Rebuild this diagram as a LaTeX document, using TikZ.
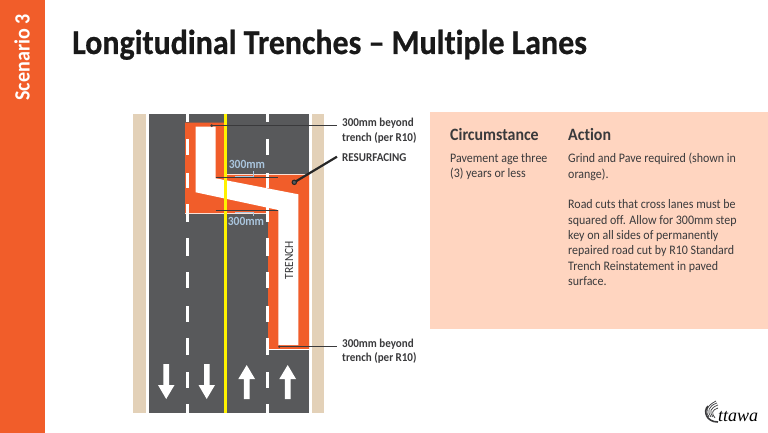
\documentclass[tikz,border=0pt]{standalone}
\usepackage{fontspec}
\setmainfont[Ligatures=NoCommon, FakeStretch=0.92, BoldFeatures={FakeBold=0.6}]{Carlito}
\newfontfamily\plainbold[Ligatures=NoCommon, FakeStretch=0.92]{Carlito Bold}
\newfontfamily\logofont{Liberation Serif}
\usetikzlibrary{positioning}
\definecolor{patch}{HTML}{F15D2A}
\definecolor{panel}{HTML}{FFD5C0}
\definecolor{road}{HTML}{58595B}
\definecolor{verge}{HTML}{E3D1B8}
\definecolor{dimblue}{HTML}{A9C4DC}
\definecolor{ink}{HTML}{3A3A3C}
\tikzset{
  lane/.style={line width=3, color=white},
  leader/.style={line width=0.8, color=ink},
  dimline/.style={line width=0.8, color=dimblue},
  callout/.style={anchor=north west, inner sep=0, align=left, text=ink, font=\fontsize{12}{14.4}\selectfont\plainbold},
  heading/.style={anchor=north west, inner sep=0, text=ink, font=\fontsize{17.3}{20}\selectfont\plainbold},
  bodytext/.style={anchor=north west, inner sep=0, align=left, text=ink, font=\fontsize{13}{15.35}\selectfont},
  dimtext/.style={inner sep=0, text=dimblue, font=\fontsize{12.5}{14}\selectfont\plainbold},
  lanearrow/.style={fill=white, draw=none},
  swirl/.style={line width=0.7, color=ink}
}
\begin{document}
\begin{tikzpicture}[x=1pt, y=-1pt]
\useasboundingbox (0,0) rectangle (768,433);
\fill[white] (0,0) rectangle (768,433);
\fill[patch] (0,0) rectangle (45,433);
\node[rotate=90, text=white, inner sep=0, font=\fontsize{21.8}{24}\selectfont\plainbold] (scenario) at (22,57.5) {Scenario 3};
\node[anchor=base west, inner sep=0, text=black!90, font=\fontsize{34.7}{36}\selectfont\bfseries] (title) at (72,54) {Longitudinal Trenches – Multiple Lanes};
% road
\fill[verge] (133,114) rectangle (324,413);
\fill[white] (146,114) rectangle (312,413);
\fill[road] (148.5,114) rectangle (309,413);
% resurfacing and trench
\fill[patch] (185,122.7) -- (224,122.7) -- (224,174) -- (309,174) -- (309,349.3) -- (268,349.3) -- (268,213.3) -- (185,213.3) -- cycle;
\draw[line width=1, color=white!80!patch] (224,174) -- (309,174);
\draw[line width=1, color=white!80!patch] (185,213.3) -- (268,213.3);
\draw[line width=1, color=white] (268,349.8) -- (309,349.8);
\fill[white] (195.7,126.7) -- (215.7,126.7) -- (215.7,178.3) -- (298.3,194.3) -- (298.3,345) -- (278.3,345) -- (278.3,210) -- (195.7,192.3) -- cycle;
% lane dashes
\draw[lane] (187.3,114) -- (187.3,122);
\draw[lane] (187.3,139) -- (187.3,155);
\draw[lane] (187.3,173) -- (187.3,188);
\draw[lane] (187.3,204) -- (187.3,222);
\draw[lane] (187.3,238) -- (187.3,256);
\draw[lane] (187.3,272) -- (187.3,288);
\draw[lane] (187.3,306) -- (187.3,322);
\draw[lane] (187.3,338) -- (187.3,355);
\draw[lane] (187.3,372) -- (187.3,388);
\draw[lane] (187.3,404) -- (187.3,413);
\draw[lane] (267,114) -- (267,122);
\draw[lane] (267,139) -- (267,155);
\draw[lane] (267,173) -- (267,188);
\draw[lane] (267,204) -- (267,222);
\draw[lane] (267,238) -- (267,256);
\draw[lane] (267,272) -- (267,288);
\draw[lane] (267,306) -- (267,322);
\draw[lane] (267,338) -- (267,355);
\draw[lane] (267,372) -- (267,388);
\draw[lane] (267,404) -- (267,413);
\draw[line width=3, color=yellow] (225.7,114) -- (225.7,413);
% lane arrows
\fill[lanearrow] (163.3,364) -- (169,364) -- (169,385) -- (174.5,385) -- (166.2,399) -- (158,385) -- (163.3,385) -- cycle;
\fill[lanearrow] (204,364) -- (209.7,364) -- (209.7,385) -- (215,385) -- (206.7,399) -- (198.5,385) -- (204,385) -- cycle;
\fill[lanearrow] (243.8,399) -- (249.6,399) -- (249.6,379) -- (255,379) -- (246.7,365) -- (238.3,379) -- (243.8,379) -- cycle;
\fill[lanearrow] (284.8,399) -- (290.6,399) -- (290.6,379) -- (296,379) -- (287.7,365) -- (279.3,379) -- (284.8,379) -- cycle;
% dimensions
\draw[line width=0.8, color=ink] (215.5,177.3) -- (278,177.3);
\draw[line width=0.8, color=ink] (215.5,210.5) -- (278,210.5);
\draw[dimline] (235,176) -- (253,176) -- (253,171);
\draw[dimline] (235,212.5) -- (253,212.5) -- (253,215.5);
\node[dimtext] (dimtop) at (247,164) {300mm};
\node[dimtext] (dimlow) at (246,221.5) {300mm};
\node[rotate=90, inner sep=0, text=ink, font=\fontsize{12.5}{13}\selectfont] (trench) at (289,260) {TRENCH};
% callouts
\node[callout] (beyondtop) at (342,118) {300mm beyond\\trench (per R10)};
\node[callout] (resurf) at (342,153) {RESURFACING};
\node[callout] (beyondlow) at (342,338.5) {300mm beyond\\trench (per R10)};
\coordinate (tiptop) at (211.7,125.7);
\coordinate (tiplow) at (279.3,346.7);
\coordinate (tipres) at (294.3,182.3);
\draw[leader] (tiptop) -- (337,125.7);
\draw[leader] (tiplow) -- (337,346.7);
\fill[ink] (tiptop) circle (1.5);
\fill[ink] (tiplow) circle (1.2);
\draw[line width=2.2, color=black!85] (tipres) -- (337,156.7);
\draw[line width=1, color=black!85, fill=road] (tipres) circle (2.2);
% table panel
\fill[panel] (430,112) rectangle (768,329);
\node[heading] (circ) at (450,128.5) {Circumstance};
\node[heading] (action) at (568,128.5) {Action};
\node[bodytext] (circtext) at (450,153) {Pavement age three\\(3) years or less};
\node[bodytext] (actiontext) at (568,153) {Grind and Pave required (shown in\\orange).\\[15.35pt]Road cuts that cross lanes must be\\squared off. Allow for 300mm step\\key on all sides of permanently\\repaired road cut by R10 Standard\\Trench Reinstatement in paved\\surface.};
% logo
\draw[line width=1.6, color=ink] (718,422) .. controls (706,422) and (703,411) .. (708,406);
\draw[swirl] (709,417) .. controls (705,412) and (706,406) .. (716,401);
\draw[swirl] (711,417) .. controls (707,412) and (708,406) .. (717,403);
\draw[swirl] (713,417) .. controls (709,412) and (710,408) .. (718,405);
\draw[swirl] (715,418) .. controls (711,413) and (712,410) .. (718,408);
\node[anchor=base west, inner sep=0, text=black, font=\logofont\itshape\fontsize{18}{20}\selectfont] (logo) at (718,421.5) {ttawa};
\end{tikzpicture}
\end{document}
